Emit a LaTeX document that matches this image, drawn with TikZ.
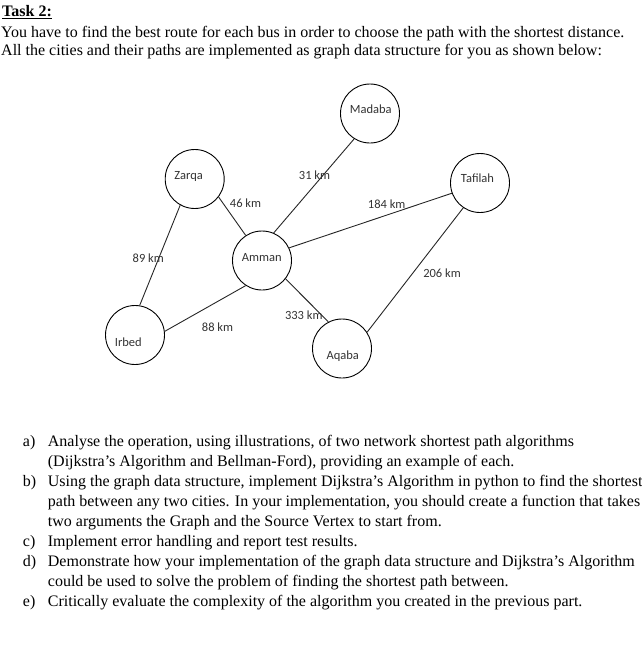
\documentclass[tikz,border=0pt]{standalone}
\usepackage{fontspec}
\setmainfont{Liberation Serif}
\newfontfamily\labelfont{Carlito}
\usetikzlibrary{positioning}

\begin{document}
\begin{tikzpicture}[x=1pt,y=-1pt,
  city/.style={circle,draw,line width=0.9pt,minimum size=59pt,inner sep=0pt},
  cityname/.style={font=\labelfont\fontsize{12.5}{14}\selectfont,text=black!80,inner sep=0pt},
  dist/.style={font=\labelfont\fontsize{12.5}{14}\selectfont,text=black!80,inner sep=0pt},
  road/.style={line width=0.9pt,black!85},
  txt/.style={anchor=base west,inner sep=0pt,font=\fontsize{16}{18.5}\selectfont}]

\useasboundingbox (0,0) rectangle (641,648);

% heading and intro
\node[txt] (title) at (2,16.5) {\textbf{Task 2:}};
\draw[line width=1.2pt] (title.base west) ++(0,2) -- ([yshift=-2pt]title.base east);
\node[txt] (intro1) at (1,37.5) {You have to find the best route for each bus in order to choose the path with the shortest distance.};
\node[txt] (intro2) at (1,55.5) {All the cities and their paths are implemented as graph data structure for you as shown below:};

% the cities
\node[city] (madaba)  at (370,113.5) {};
\node[city] (zarqa)   at (194.7,179) {};
\node[city] (tafilah) at (480,183) {};
\node[city] (amman)   at (262,260.5) {};
\node[city] (irbed)   at (135,335) {};
\node[city] (aqaba)   at (342,348.5) {};

\node[cityname] (madabaname)  at (370.8,109) {Madaba};
\node[cityname] (zarqaname)   at (188.7,176) {Zarqa};
\node[cityname] (tafilahname) at (477.5,178) {Tafilah};
\node[cityname] (ammanname)   at (261.7,258) {Amman};
\node[cityname] (irbedname)   at (128.3,342) {Irbed};
\node[cityname] (aqabaname)   at (342.8,356) {Aqaba};

% the roads
\draw[road] (zarqa.-119)   -- (irbed.81);
\draw[road] (zarqa.-37)    -- (amman.123);
\draw[road] (madaba.-122)  -- (amman.67);
\draw[road] (amman.25)     -- (tafilah.200);
\draw[road] (amman.-123)   -- (irbed.7);
\draw[road] (amman.-38)    -- (aqaba.117);
\draw[road] (tafilah.-124) -- (aqaba.33);

\node[dist] (d89)  at (148.3,258.3) {89 km};
\node[dist] (d46)  at (245.5,203)   {46 km};
\node[dist] (d31)  at (314.5,175)   {31 km};
\node[dist] (d184) at (386.7,204)   {184 km};
\node[dist] (d88)  at (217.5,327.3) {88 km};
\node[dist] (d333) at (303.8,315)   {333 km};
\node[dist] (d206) at (442,273.3)   {206 km};

% the questions
\node[txt] (qa)  at (22.7,446) {a)};
\node[txt] (qa1) at (47.7,446) {Analyse the operation, using illustrations, of two network shortest path algorithms};
\node[txt] (qa2) at (47.7,466) {(Dijkstra’s Algorithm and Bellman-Ford), providing an example of each.};
\node[txt] (qb)  at (22.7,486) {b)};
\node[txt] (qb1) at (47.7,486) {Using the graph data structure, implement Dijkstra’s Algorithm in python to find the shortest};
\node[txt] (qb2) at (47.7,506) {path between any two cities. In your implementation, you should create a function that takes};
\node[txt] (qb3) at (47.7,526) {two arguments the Graph and the Source Vertex to start from.};
\node[txt] (qc)  at (22.7,546) {c)};
\node[txt] (qc1) at (47.7,546) {Implement error handling and report test results.};
\node[txt] (qd)  at (22.7,566) {d)};
\node[txt] (qd1) at (47.7,566) {Demonstrate how your implementation of the graph data structure and Dijkstra’s Algorithm};
\node[txt] (qd2) at (47.7,586) {could be used to solve the problem of finding the shortest path between.};
\node[txt] (qe)  at (22.7,606) {e)};
\node[txt] (qe1) at (47.7,606) {Critically evaluate the complexity of the algorithm you created in the previous part.};

\end{tikzpicture}
\end{document}
